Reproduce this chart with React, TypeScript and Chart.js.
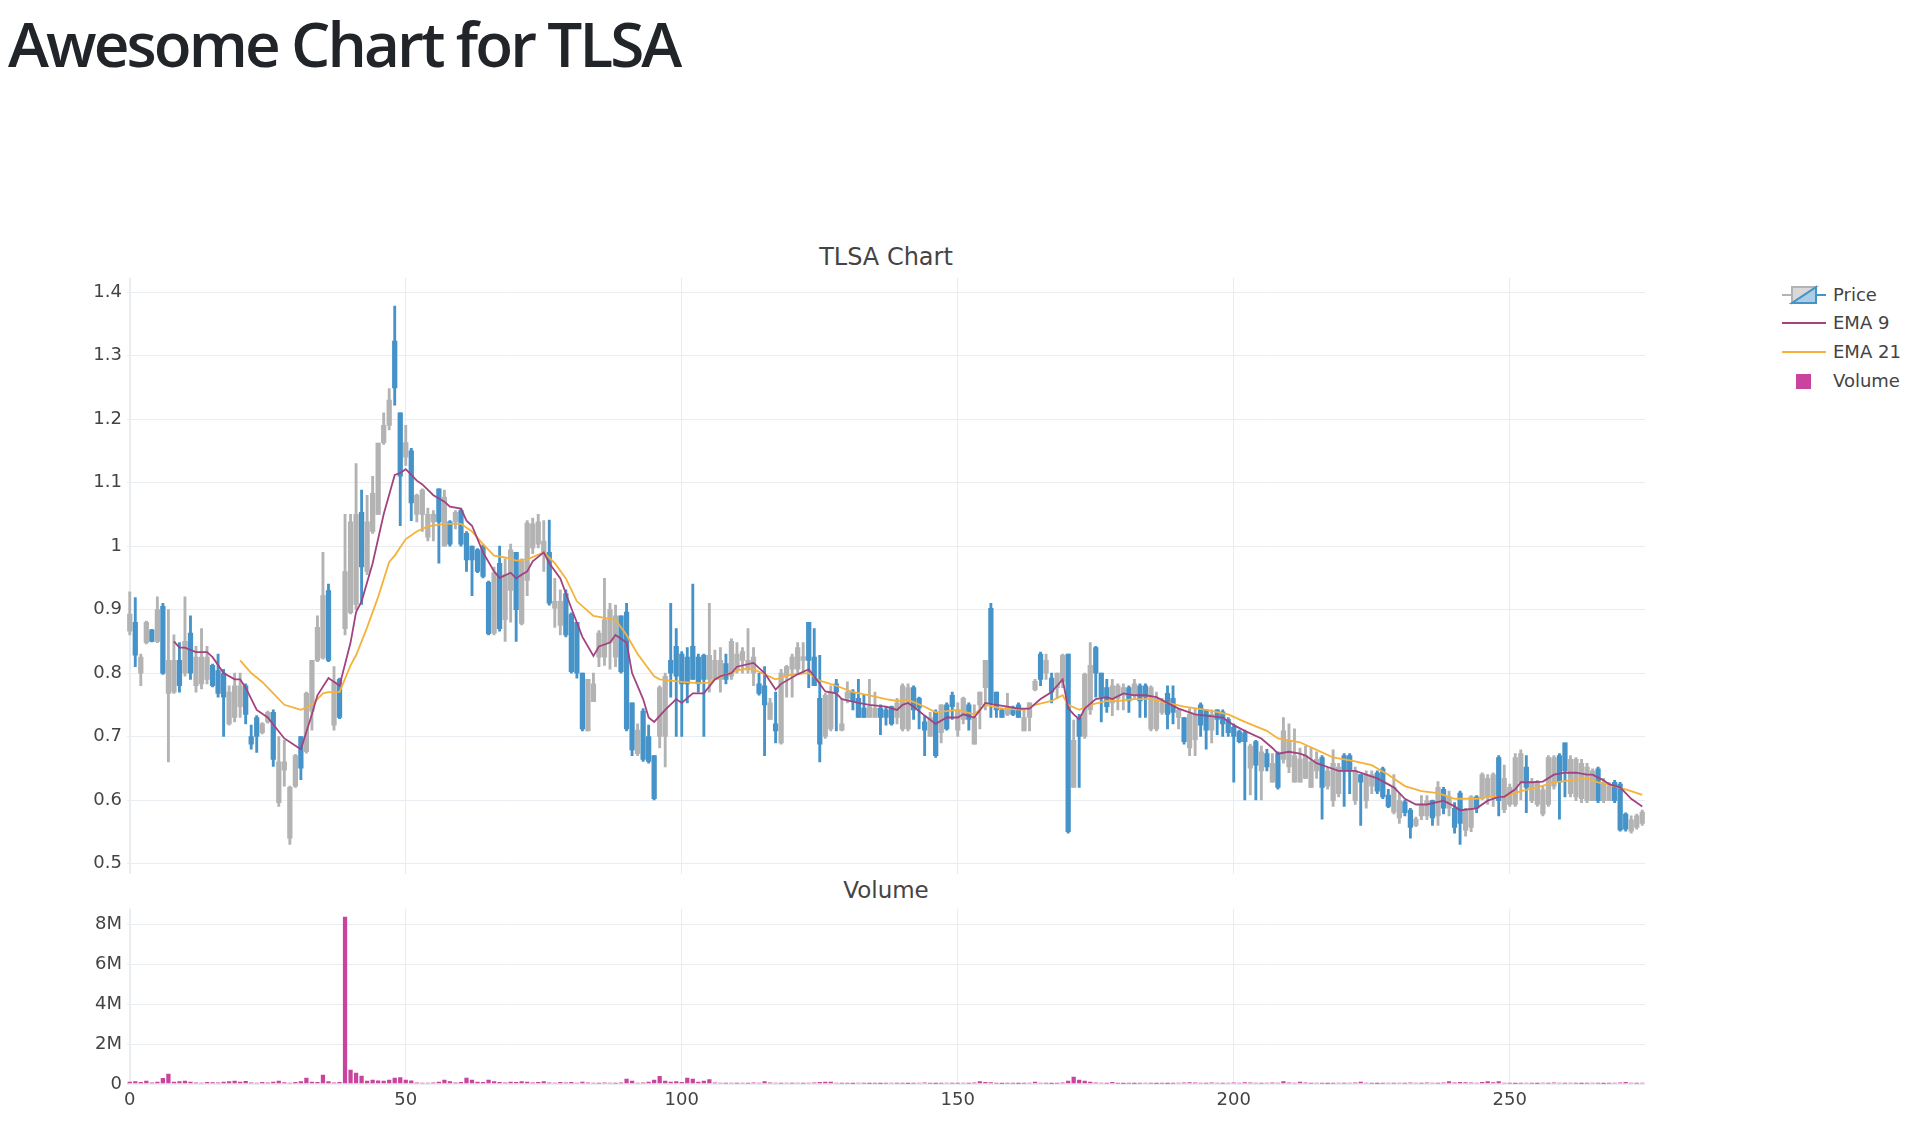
import React, { useEffect, useRef } from "react";
import { Chart, registerables } from "chart.js";
Chart.register(...registerables);

// ---------- data ----------
const open = [
  0.866, 0.88, 0.8, 0.848, 0.868, 0.85, 0.905, 0.768, 0.77, 0.82,
  0.8, 0.863, 0.78, 0.783, 0.79, 0.812, 0.804, 0.8, 0.72, 0.73,
  0.747, 0.78, 0.7, 0.73, 0.706, 0.723, 0.738, 0.596, 0.647, 0.54,
  0.622, 0.7, 0.676, 0.74, 0.82, 0.824, 0.93, 0.718, 0.79, 0.87,
  0.895, 0.908, 1.053, 0.96, 1.023, 1.05, 1.163, 1.19, 1.323, 1.21,
  1.14, 1.15, 1.05, 1.05, 1.014, 1.038, 1.09, 1.0, 1.038, 1.038,
  1.056, 1.02, 1.0, 0.994, 1.0, 0.943, 0.863, 0.973, 0.884, 0.93,
  0.99, 0.878, 0.946, 0.997, 1.003, 0.99, 0.99, 0.902, 0.875, 0.925,
  0.893, 0.88, 0.8, 0.709, 0.755, 0.825, 0.825, 0.848, 0.825, 0.89,
  0.896, 0.753, 0.673, 0.74, 0.7, 0.67, 0.7, 0.7, 0.82, 0.842,
  0.83, 0.825, 0.842, 0.825, 0.828, 0.79, 0.79, 0.79, 0.815, 0.795,
  0.806, 0.82, 0.806, 0.8, 0.783, 0.78, 0.727, 0.72, 0.69, 0.795,
  0.806, 0.806, 0.82, 0.88, 0.825, 0.76, 0.7, 0.712, 0.783, 0.71,
  0.76, 0.77, 0.76, 0.745, 0.73, 0.73, 0.745, 0.742, 0.747, 0.73,
  0.712, 0.712, 0.777, 0.76, 0.723, 0.7, 0.738, 0.706, 0.75, 0.765,
  0.71, 0.727, 0.75, 0.688, 0.75, 0.777, 0.902, 0.77, 0.742, 0.735,
  0.744, 0.75, 0.709, 0.73, 0.774, 0.83, 0.8, 0.792, 0.777, 0.786,
  0.83, 0.62, 0.73, 0.7, 0.742, 0.84, 0.8, 0.777, 0.753, 0.76,
  0.765, 0.777, 0.765, 0.78, 0.78, 0.712, 0.712, 0.738, 0.768, 0.76,
  0.73, 0.73, 0.682, 0.695, 0.75, 0.742, 0.71, 0.742, 0.739, 0.727,
  0.715, 0.708, 0.706, 0.65, 0.692, 0.646, 0.673, 0.628, 0.673, 0.664,
  0.652, 0.628, 0.628, 0.634, 0.62, 0.646, 0.667, 0.622, 0.599, 0.61,
  0.67, 0.67, 0.599, 0.64, 0.599, 0.622, 0.643, 0.649, 0.608, 0.581,
  0.572, 0.597, 0.584, 0.56, 0.575, 0.575, 0.599, 0.575, 0.617, 0.587,
  0.587, 0.611, 0.552, 0.557, 0.605, 0.602, 0.605, 0.605, 0.667, 0.585,
  0.593, 0.593, 0.628, 0.652, 0.599, 0.593, 0.578, 0.593, 0.622, 0.67,
  0.69, 0.61, 0.605, 0.602, 0.599, 0.599, 0.649, 0.599, 0.599, 0.628,
  0.625, 0.578, 0.551, 0.557, 0.563,
];
const high = [
  0.928, 0.919, 0.83, 0.882, 0.869, 0.92, 0.91, 0.9, 0.86, 0.848,
  0.92, 0.89, 0.842, 0.87, 0.842, 0.814, 0.83, 0.806, 0.78, 0.8,
  0.8, 0.783, 0.718, 0.733, 0.722, 0.74, 0.742, 0.7, 0.694, 0.622,
  0.672, 0.7, 0.77, 0.82, 0.89, 0.99, 0.94, 0.81, 0.792, 1.05,
  1.05, 1.13, 1.088, 1.08, 1.11, 1.162, 1.21, 1.248, 1.378, 1.21,
  1.19, 1.154, 1.082, 1.09, 1.06, 1.056, 1.09, 1.088, 1.04, 1.056,
  1.059, 1.023, 1.0, 0.996, 1.002, 0.945, 0.967, 1.0, 0.98, 1.003,
  0.99, 0.98, 1.04, 1.044, 1.05, 1.04, 1.041, 0.949, 0.931, 0.931,
  0.895, 0.88, 0.8, 0.79, 0.8, 0.867, 0.949, 0.91, 0.907, 0.89,
  0.91, 0.753, 0.72, 0.744, 0.718, 0.67, 0.78, 0.8, 0.91, 0.87,
  0.834, 0.84, 0.94, 0.83, 0.83, 0.91, 0.836, 0.84, 0.83, 0.854,
  0.848, 0.84, 0.87, 0.84, 0.8, 0.81, 0.76, 0.77, 0.806, 0.812,
  0.83, 0.848, 0.848, 0.88, 0.87, 0.828, 0.768, 0.78, 0.79, 0.76,
  0.786, 0.774, 0.79, 0.765, 0.79, 0.77, 0.75, 0.747, 0.748, 0.76,
  0.783, 0.783, 0.78, 0.762, 0.733, 0.738, 0.742, 0.75, 0.753, 0.77,
  0.753, 0.762, 0.753, 0.75, 0.77, 0.82, 0.91, 0.77, 0.745, 0.768,
  0.748, 0.753, 0.744, 0.753, 0.79, 0.833, 0.83, 0.8, 0.8, 0.83,
  0.83, 0.726, 0.735, 0.8, 0.848, 0.842, 0.8, 0.79, 0.79, 0.783,
  0.783, 0.78, 0.79, 0.783, 0.783, 0.78, 0.77, 0.76, 0.78, 0.78,
  0.744, 0.73, 0.744, 0.744, 0.753, 0.742, 0.742, 0.742, 0.742, 0.73,
  0.72, 0.71, 0.71, 0.688, 0.694, 0.685, 0.68, 0.673, 0.676, 0.73,
  0.72, 0.712, 0.682, 0.685, 0.682, 0.676, 0.67, 0.652, 0.679, 0.658,
  0.673, 0.673, 0.652, 0.64, 0.646, 0.646, 0.646, 0.652, 0.617, 0.64,
  0.61, 0.6, 0.587, 0.573, 0.607, 0.607, 0.6, 0.629, 0.62, 0.614,
  0.596, 0.614, 0.587, 0.607, 0.607, 0.643, 0.64, 0.643, 0.67, 0.655,
  0.625, 0.673, 0.679, 0.67, 0.634, 0.631, 0.622, 0.67, 0.67, 0.673,
  0.69, 0.67, 0.667, 0.664, 0.658, 0.649, 0.652, 0.634, 0.628, 0.631,
  0.628, 0.58, 0.575, 0.578, 0.584,
];
const low = [
  0.86, 0.81, 0.78, 0.846, 0.849, 0.848, 0.798, 0.66, 0.768, 0.77,
  0.795, 0.79, 0.77, 0.775, 0.783, 0.778, 0.762, 0.7, 0.718, 0.723,
  0.73, 0.72, 0.68, 0.675, 0.704, 0.721, 0.653, 0.59, 0.622, 0.53,
  0.62, 0.632, 0.674, 0.71, 0.818, 0.822, 0.818, 0.71, 0.728, 0.86,
  0.893, 0.9, 0.908, 0.955, 1.02, 1.05, 1.16, 1.183, 1.222, 1.032,
  1.127, 1.04, 1.038, 1.023, 1.008, 1.008, 0.973, 1.0, 1.0, 1.027,
  1.0, 0.96, 0.922, 0.958, 0.95, 0.86, 0.86, 0.866, 0.85, 0.88,
  0.85, 0.876, 0.922, 0.988, 0.997, 0.96, 0.907, 0.872, 0.86, 0.857,
  0.8, 0.792, 0.709, 0.709, 0.755, 0.81, 0.812, 0.806, 0.81, 0.8,
  0.709, 0.67, 0.67, 0.661, 0.658, 0.6, 0.682, 0.652, 0.762, 0.7,
  0.7, 0.753, 0.79, 0.77, 0.7, 0.77, 0.79, 0.77, 0.783, 0.79,
  0.8, 0.8, 0.8, 0.78, 0.765, 0.67, 0.727, 0.69, 0.688, 0.762,
  0.762, 0.8, 0.8, 0.777, 0.78, 0.66, 0.697, 0.709, 0.709, 0.709,
  0.753, 0.742, 0.73, 0.73, 0.73, 0.73, 0.703, 0.718, 0.718, 0.72,
  0.709, 0.709, 0.727, 0.712, 0.67, 0.7, 0.667, 0.69, 0.71, 0.727,
  0.7, 0.72, 0.71, 0.688, 0.712, 0.742, 0.73, 0.73, 0.73, 0.733,
  0.733, 0.73, 0.709, 0.709, 0.772, 0.78, 0.79, 0.753, 0.76, 0.777,
  0.548, 0.62, 0.62, 0.697, 0.735, 0.762, 0.723, 0.738, 0.733, 0.742,
  0.742, 0.738, 0.76, 0.73, 0.73, 0.709, 0.709, 0.735, 0.712, 0.72,
  0.712, 0.688, 0.67, 0.67, 0.7, 0.68, 0.69, 0.703, 0.7, 0.7,
  0.628, 0.69, 0.6, 0.608, 0.6, 0.6, 0.646, 0.628, 0.617, 0.658,
  0.643, 0.628, 0.628, 0.634, 0.62, 0.634, 0.57, 0.617, 0.59, 0.605,
  0.59, 0.61, 0.593, 0.56, 0.587, 0.61, 0.61, 0.602, 0.588, 0.578,
  0.563, 0.575, 0.54, 0.558, 0.569, 0.569, 0.56, 0.56, 0.578, 0.575,
  0.548, 0.53, 0.543, 0.55, 0.58, 0.6, 0.593, 0.59, 0.575, 0.58,
  0.59, 0.59, 0.6, 0.58, 0.596, 0.59, 0.575, 0.59, 0.617, 0.57,
  0.605, 0.605, 0.599, 0.596, 0.596, 0.599, 0.596, 0.596, 0.599, 0.596,
  0.551, 0.551, 0.548, 0.554, 0.56,
];
const close = [
  0.893, 0.828, 0.825, 0.88, 0.85, 0.9, 0.8, 0.82, 0.82, 0.78,
  0.85, 0.8, 0.825, 0.825, 0.825, 0.78, 0.768, 0.762, 0.77, 0.78,
  0.78, 0.735, 0.688, 0.7, 0.72, 0.738, 0.664, 0.66, 0.66, 0.62,
  0.67, 0.65, 0.768, 0.82, 0.872, 0.922, 0.82, 0.786, 0.73, 0.96,
  1.038, 1.05, 0.967, 1.038, 1.083, 1.162, 1.19, 1.23, 1.249, 1.11,
  1.163, 1.068, 1.08, 1.088, 1.05, 1.05, 1.038, 1.077, 1.003, 1.053,
  1.003, 0.978, 0.978, 0.96, 0.952, 0.862, 0.958, 0.87, 0.955, 0.994,
  0.9, 0.976, 1.036, 1.035, 1.038, 1.008, 0.91, 0.913, 0.913, 0.86,
  0.802, 0.8, 0.712, 0.79, 0.783, 0.863, 0.884, 0.9, 0.89, 0.802,
  0.712, 0.679, 0.71, 0.664, 0.661, 0.602, 0.777, 0.795, 0.8, 0.795,
  0.783, 0.783, 0.79, 0.783, 0.79, 0.828, 0.82, 0.82, 0.79, 0.85,
  0.83, 0.834, 0.82, 0.825, 0.768, 0.75, 0.753, 0.709, 0.8, 0.81,
  0.825, 0.84, 0.826, 0.82, 0.78, 0.688, 0.765, 0.77, 0.77, 0.72,
  0.77, 0.755, 0.73, 0.73, 0.747, 0.745, 0.73, 0.73, 0.72, 0.753,
  0.78, 0.777, 0.742, 0.745, 0.71, 0.73, 0.67, 0.75, 0.712, 0.747,
  0.742, 0.76, 0.727, 0.73, 0.77, 0.82, 0.753, 0.742, 0.73, 0.747,
  0.735, 0.73, 0.73, 0.753, 0.787, 0.79, 0.82, 0.77, 0.8, 0.828,
  0.55, 0.694, 0.7, 0.798, 0.812, 0.8, 0.762, 0.747, 0.78, 0.78,
  0.777, 0.756, 0.783, 0.756, 0.762, 0.777, 0.76, 0.753, 0.735, 0.738,
  0.742, 0.692, 0.735, 0.735, 0.718, 0.71, 0.735, 0.727, 0.72, 0.706,
  0.7, 0.692, 0.692, 0.685, 0.655, 0.676, 0.652, 0.658, 0.62, 0.709,
  0.694, 0.67, 0.665, 0.67, 0.66, 0.664, 0.62, 0.646, 0.658, 0.652,
  0.646, 0.646, 0.646, 0.628, 0.64, 0.64, 0.614, 0.605, 0.59, 0.62,
  0.599, 0.58, 0.557, 0.57, 0.593, 0.599, 0.572, 0.62, 0.587, 0.605,
  0.557, 0.563, 0.584, 0.605, 0.587, 0.64, 0.634, 0.64, 0.599, 0.634,
  0.62, 0.667, 0.673, 0.62, 0.628, 0.628, 0.616, 0.667, 0.667, 0.628,
  0.646, 0.664, 0.664, 0.658, 0.652, 0.646, 0.599, 0.628, 0.622, 0.599,
  0.553, 0.554, 0.569, 0.575, 0.581,
];
// volume in millions
const volume = [
  0.1, 0.12, 0.08, 0.15, 0.06, 0.1, 0.28, 0.5, 0.1, 0.12,
  0.14, 0.1, 0.06, 0.05, 0.08, 0.07, 0.06, 0.1, 0.12, 0.15,
  0.1, 0.13, 0.06, 0.05, 0.08, 0.06, 0.1, 0.14, 0.07, 0.05,
  0.08, 0.12, 0.3, 0.1, 0.08, 0.45, 0.12, 0.06, 0.08, 8.35,
  0.7, 0.55, 0.4, 0.15, 0.2, 0.16, 0.15, 0.2, 0.3, 0.32,
  0.2, 0.16, 0.06, 0.05, 0.05, 0.06, 0.1, 0.2, 0.12, 0.06,
  0.08, 0.3, 0.2, 0.1, 0.08, 0.2, 0.12, 0.08, 0.06, 0.1,
  0.08, 0.12, 0.1, 0.06, 0.08, 0.12, 0.06, 0.05, 0.08, 0.06,
  0.08, 0.05, 0.1, 0.06, 0.05, 0.04, 0.06, 0.05, 0.04, 0.06,
  0.25, 0.15, 0.05, 0.06, 0.1, 0.2, 0.38, 0.15, 0.1, 0.12,
  0.08, 0.3, 0.25, 0.1, 0.15, 0.22, 0.06, 0.05, 0.04, 0.05,
  0.04, 0.05, 0.04, 0.06, 0.05, 0.12, 0.06, 0.05, 0.04, 0.05,
  0.04, 0.05, 0.04, 0.05, 0.06, 0.08, 0.1, 0.1, 0.05, 0.04,
  0.04, 0.03, 0.05, 0.04, 0.03, 0.04, 0.03, 0.04, 0.05, 0.04,
  0.04, 0.03, 0.04, 0.05, 0.06, 0.04, 0.03, 0.04, 0.05, 0.04,
  0.04, 0.05, 0.04, 0.06, 0.12, 0.08, 0.07, 0.04, 0.03, 0.04,
  0.04, 0.03, 0.04, 0.05, 0.1, 0.05, 0.04, 0.03, 0.04, 0.06,
  0.15, 0.35, 0.2, 0.15, 0.1, 0.06, 0.05, 0.04, 0.08, 0.04,
  0.03, 0.04, 0.03, 0.04, 0.05, 0.04, 0.03, 0.04, 0.03, 0.04,
  0.05, 0.06, 0.07, 0.06, 0.05, 0.04, 0.06, 0.05, 0.04, 0.05,
  0.06, 0.05, 0.07, 0.06, 0.05, 0.04, 0.05, 0.06, 0.05, 0.12,
  0.06, 0.05, 0.1, 0.06, 0.04, 0.05, 0.04, 0.03, 0.04, 0.05,
  0.04, 0.05, 0.06, 0.1, 0.05, 0.04, 0.03, 0.04, 0.05, 0.04,
  0.05, 0.04, 0.06, 0.05, 0.04, 0.06, 0.05, 0.04, 0.06, 0.12,
  0.06, 0.08, 0.07, 0.06, 0.05, 0.08, 0.12, 0.07, 0.12, 0.05,
  0.04, 0.03, 0.04, 0.05, 0.04, 0.03, 0.05, 0.04, 0.06, 0.05,
  0.04, 0.05, 0.04, 0.03, 0.04, 0.05, 0.04, 0.03, 0.04, 0.05,
  0.06, 0.08, 0.05, 0.04, 0.05,
];
const ema9Index = [
  8, 9, 10, 12, 14, 15, 17, 19, 20, 21, 23, 25, 28, 31, 33, 34, 36, 38, 40, 41,
  42, 44, 46, 48, 49, 50, 52, 53, 55, 57, 58, 60, 61, 62, 64, 66, 67, 69, 70, 71,
  72, 73, 75, 76, 78, 80, 82, 84, 85, 87, 88, 90, 91, 93, 94, 95, 97, 99, 100, 102,
  104, 106, 107, 109, 110, 113, 115, 117, 118, 121, 123, 124, 126, 128, 129, 132, 134, 137, 139, 140,
  141, 142, 144, 146, 148, 150, 151, 153, 155, 157, 159, 161, 163, 165, 167, 169, 170, 171, 172, 173,
  175, 177, 178, 180, 182, 184, 186, 188, 190, 193, 195, 198, 200, 202, 205, 207, 208, 210, 212, 213,
  215, 217, 219, 222, 224, 226, 229, 231, 233, 235, 238, 240, 241, 244, 246, 248, 249, 251, 252, 254,
  256, 258, 260, 262, 264, 265, 267, 268, 270, 272, 274,
];
const ema9Value = [
  0.85, 0.84, 0.84, 0.833, 0.833, 0.825, 0.8, 0.79, 0.79, 0.777, 0.742, 0.73, 0.697, 0.68, 0.735, 0.765, 0.792, 0.78, 0.848, 0.896,
  0.913, 0.973, 1.05, 1.112, 1.115, 1.121, 1.103, 1.097, 1.08, 1.07, 1.062, 1.059, 1.04, 1.032, 0.99, 0.96, 0.95, 0.958, 0.949, 0.955,
  0.96, 0.976, 0.99, 0.973, 0.949, 0.902, 0.857, 0.827, 0.842, 0.848, 0.86, 0.848, 0.8, 0.759, 0.73, 0.723, 0.742, 0.759, 0.753, 0.768,
  0.768, 0.79, 0.795, 0.8, 0.81, 0.816, 0.8, 0.774, 0.783, 0.798, 0.806, 0.795, 0.771, 0.768, 0.759, 0.753, 0.75, 0.747, 0.742, 0.75,
  0.753, 0.747, 0.733, 0.72, 0.73, 0.73, 0.735, 0.73, 0.753, 0.75, 0.747, 0.744, 0.744, 0.759, 0.77, 0.79, 0.745, 0.735, 0.727, 0.744,
  0.759, 0.762, 0.759, 0.768, 0.765, 0.765, 0.762, 0.753, 0.744, 0.735, 0.733, 0.73, 0.718, 0.709, 0.697, 0.682, 0.673, 0.676, 0.673, 0.67,
  0.658, 0.652, 0.646, 0.646, 0.64, 0.634, 0.62, 0.602, 0.593, 0.593, 0.599, 0.59, 0.584, 0.587, 0.599, 0.605, 0.605, 0.617, 0.628, 0.628,
  0.629, 0.64, 0.643, 0.643, 0.64, 0.64, 0.631, 0.625, 0.62, 0.602, 0.59,
];
const ema21Index = [
  20, 22, 24, 26, 28, 31, 33, 35, 36, 38, 40, 41, 43, 45, 47, 48, 50, 52, 54, 57,
  60, 62, 64, 66, 68, 70, 72, 75, 77, 79, 81, 84, 86, 88, 90, 92, 95, 96, 100, 103,
  105, 106, 108, 111, 113, 115, 117, 120, 123, 125, 128, 131, 134, 137, 139, 141, 144, 146, 150, 153,
  155, 158, 162, 164, 167, 169, 170, 172, 174, 177, 179, 182, 185, 188, 191, 195, 199, 202, 206, 208,
  212, 215, 218, 222, 225, 228, 231, 234, 237, 240, 244, 246, 249, 252, 255, 258, 261, 264, 266, 269,
  272, 274,
];
const ema21Value = [
  0.82, 0.8, 0.786, 0.768, 0.75, 0.742, 0.75, 0.768, 0.77, 0.77, 0.812, 0.828, 0.872, 0.92, 0.975, 0.985, 1.011, 1.023, 1.031, 1.035,
  1.035, 1.023, 1.003, 0.985, 0.982, 0.977, 0.979, 0.99, 0.973, 0.949, 0.913, 0.89, 0.887, 0.884, 0.86, 0.83, 0.795, 0.79, 0.786, 0.784,
  0.785, 0.79, 0.798, 0.806, 0.806, 0.798, 0.79, 0.798, 0.8, 0.788, 0.78, 0.77, 0.765, 0.759, 0.756, 0.758, 0.747, 0.738, 0.742, 0.735,
  0.75, 0.744, 0.742, 0.75, 0.756, 0.765, 0.75, 0.742, 0.75, 0.756, 0.756, 0.759, 0.759, 0.753, 0.747, 0.742, 0.735, 0.723, 0.709, 0.697,
  0.691, 0.679, 0.667, 0.661, 0.655, 0.64, 0.622, 0.614, 0.611, 0.602, 0.602, 0.605, 0.605, 0.614, 0.62, 0.628, 0.631, 0.634, 0.628, 0.622,
  0.614, 0.608,
];
const priceTicks = [0.5, 0.6, 0.7, 0.8, 0.9, 1.0, 1.1, 1.2, 1.3, 1.4];
const volumeTicks = [0, 2, 4, 6, 8];
const xTicks = [0, 50, 100, 150, 200, 250];

// ---------- style ----------
const GRAY = "#B3B3B3";
const BLUE = "#4593C8";
const EMA9_COLOR = "#A2437F";
const EMA21_COLOR = "#F5B23A";
const VOL_COLOR = "#C8449D";
const GRID = "#E9ECF0";
const TEXT = "#444";
const PFONT = '"DejaVu Sans", Verdana, sans-serif';
const HFONT = '"Open Sans", sans-serif';

export default function App() {
  const priceRef = useRef<HTMLCanvasElement>(null);
  const volRef = useRef<HTMLCanvasElement>(null);

  useEffect(() => {
    const colors = open.map((o, i) => (close[i] >= o ? GRAY : BLUE));
    const gridLW = (ctx: any) => (ctx.tick && ctx.tick.value === 0 ? 2 : 1);
    const tickFont = { family: PFONT, size: 18 };

    const priceChart = new Chart(priceRef.current!, {
      type: "bar",
      data: {
        datasets: [
          {
            type: "line",
            label: "EMA 9",
            data: ema9Index.map((x, i) => ({ x, y: ema9Value[i] })),
            borderColor: EMA9_COLOR,
            borderWidth: 1.8,
            pointRadius: 0,
            tension: 0,
            order: 0,
          } as any,
          {
            type: "line",
            label: "EMA 21",
            data: ema21Index.map((x, i) => ({ x, y: ema21Value[i] })),
            borderColor: EMA21_COLOR,
            borderWidth: 1.8,
            pointRadius: 0,
            tension: 0,
            order: 1,
          },
          {
            type: "bar",
            label: "wick",
            data: high.map((h, i) => ({ x: i, y: [low[i], h] })),
            backgroundColor: colors,
            barThickness: 2.2,
            grouped: false,
            order: 3,
          },
          {
            type: "bar",
            label: "body",
            data: open.map((o, i) => ({ x: i, y: [o, close[i]] })),
            backgroundColor: colors,
            barThickness: 4.6,
            minBarLength: 2,
            grouped: false,
            order: 2,
          },
        ],
      },
      options: {
        animation: false,
        responsive: false,
        maintainAspectRatio: false,
        devicePixelRatio: 1,
        layout: { padding: { top: 0, right: 15, bottom: 0, left: 0 } },
        plugins: { legend: { display: false }, tooltip: { enabled: false }, title: { display: false } },
        scales: {
          x: {
            type: "linear",
            min: -0.5,
            max: 274.5,
            offset: false,
            afterBuildTicks: (s: any) => {
              s.ticks = xTicks.map((v) => ({ value: v }));
            },
            afterFit: (s: any) => {
              s.height = 0;
            },
            ticks: { display: false },
            grid: { color: GRID, lineWidth: gridLW, drawTicks: false, offset: false },
            border: { display: false },
          },
          y: {
            type: "linear",
            min: 0.4832,
            max: 1.4225,
            afterBuildTicks: (s: any) => {
              s.ticks = priceTicks.map((v) => ({ value: v }));
            },
            afterFit: (s: any) => {
              s.width = 127;
            },
            ticks: {
              font: tickFont,
              color: TEXT,
              padding: 5,
              callback: (v: any) => String(Number(Number(v).toFixed(1))),
            },
            grid: { color: GRID, drawTicks: false },
            border: { display: false },
          },
        },
      } as any,
    });

    const volChart = new Chart(volRef.current!, {
      type: "bar",
      data: {
        datasets: [
          {
            label: "Volume",
            data: volume.map((v, i) => ({ x: i, y: v })),
            backgroundColor: VOL_COLOR,
            barThickness: 3.6,
            grouped: false,
          },
        ],
      },
      options: {
        animation: false,
        responsive: false,
        maintainAspectRatio: false,
        devicePixelRatio: 1,
        layout: { padding: { top: 0, right: 15, bottom: 0, left: 0 } },
        plugins: { legend: { display: false }, tooltip: { enabled: false }, title: { display: false } },
        scales: {
          x: {
            type: "linear",
            min: -0.5,
            max: 274.5,
            offset: false,
            afterBuildTicks: (s: any) => {
              s.ticks = xTicks.map((v) => ({ value: v }));
            },
            afterFit: (s: any) => {
              s.height = 37;
            },
            ticks: { font: tickFont, color: TEXT, padding: 6, maxRotation: 0, autoSkip: false },
            grid: { color: GRID, lineWidth: gridLW, drawTicks: false, offset: false },
            border: { display: false },
          },
          y: {
            type: "linear",
            min: 0,
            max: 8.77,
            afterBuildTicks: (s: any) => {
              s.ticks = volumeTicks.map((v) => ({ value: v }));
            },
            afterFit: (s: any) => {
              s.width = 127;
            },
            ticks: {
              font: tickFont,
              color: TEXT,
              padding: 5,
              callback: (v: any) => (Number(v) === 0 ? "0" : `${v}M`),
            },
            grid: { color: GRID, lineWidth: gridLW, drawTicks: false },
            border: { display: false },
          },
        },
      } as any,
    });

    return () => {
      priceChart.destroy();
      volChart.destroy();
    };
  }, []);

  const legendText: React.CSSProperties = {
    position: "absolute",
    left: 1833,
    font: `18px ${PFONT}`,
    lineHeight: "18px",
    color: TEXT,
    whiteSpace: "nowrap",
  };

  return (
    <div
      style={{
        position: "fixed",
        left: 0,
        top: 0,
        width: 1920,
        height: 1133,
        background: "#fff",
        overflow: "hidden",
      }}
    >
      <h1
        style={{
          position: "absolute",
          left: 8,
          top: 12,
          margin: 0,
          font: `600 62px ${HFONT}`,
          lineHeight: "62px",
          letterSpacing: "-2.9px",
          color: "#212529",
          whiteSpace: "nowrap",
        }}
      >
        Awesome Chart for TLSA
      </h1>

      <div
        style={{
          position: "absolute",
          left: 586,
          width: 600,
          top: 245,
          textAlign: "center",
          font: `24px ${PFONT}`,
          lineHeight: "24px",
          color: TEXT,
        }}
      >
        TLSA Chart
      </div>
      <div
        style={{
          position: "absolute",
          left: 586,
          width: 600,
          top: 879,
          textAlign: "center",
          font: `23px ${PFONT}`,
          lineHeight: "23px",
          color: TEXT,
        }}
      >
        Volume
      </div>

      <canvas
        ref={priceRef}
        width={1660}
        height={628}
        style={{ position: "absolute", left: 0, top: 262, width: 1660, height: 628 }}
      />
      <canvas
        ref={volRef}
        width={1660}
        height={228}
        style={{ position: "absolute", left: 0, top: 893, width: 1660, height: 228 }}
      />

      {/* legend */}
      <svg width={46} height={24} style={{ position: "absolute", left: 1781, top: 283 }}>
        <line x1={1} y1={12} x2={11} y2={12} stroke={GRAY} strokeWidth={2} />
        <line x1={35} y1={12} x2={45} y2={12} stroke={BLUE} strokeWidth={2} />
        <path d="M11,20 L11,4 L35,4 Z" fill={GRAY} fillOpacity={0.5} stroke={GRAY} strokeWidth={2} />
        <path d="M11,20 L35,20 L35,4 Z" fill={BLUE} fillOpacity={0.45} stroke={BLUE} strokeWidth={2} />
      </svg>
      <div style={{ ...legendText, top: 286 }}>Price</div>

      <div style={{ position: "absolute", left: 1782, top: 322, width: 44, height: 2, background: EMA9_COLOR }} />
      <div style={{ ...legendText, top: 314 }}>EMA 9</div>

      <div style={{ position: "absolute", left: 1782, top: 351, width: 44, height: 2, background: EMA21_COLOR }} />
      <div style={{ ...legendText, top: 343 }}>EMA 21</div>

      <div style={{ position: "absolute", left: 1796, top: 374, width: 15, height: 15, background: VOL_COLOR }} />
      <div style={{ ...legendText, top: 372 }}>Volume</div>
    </div>
  );
}
